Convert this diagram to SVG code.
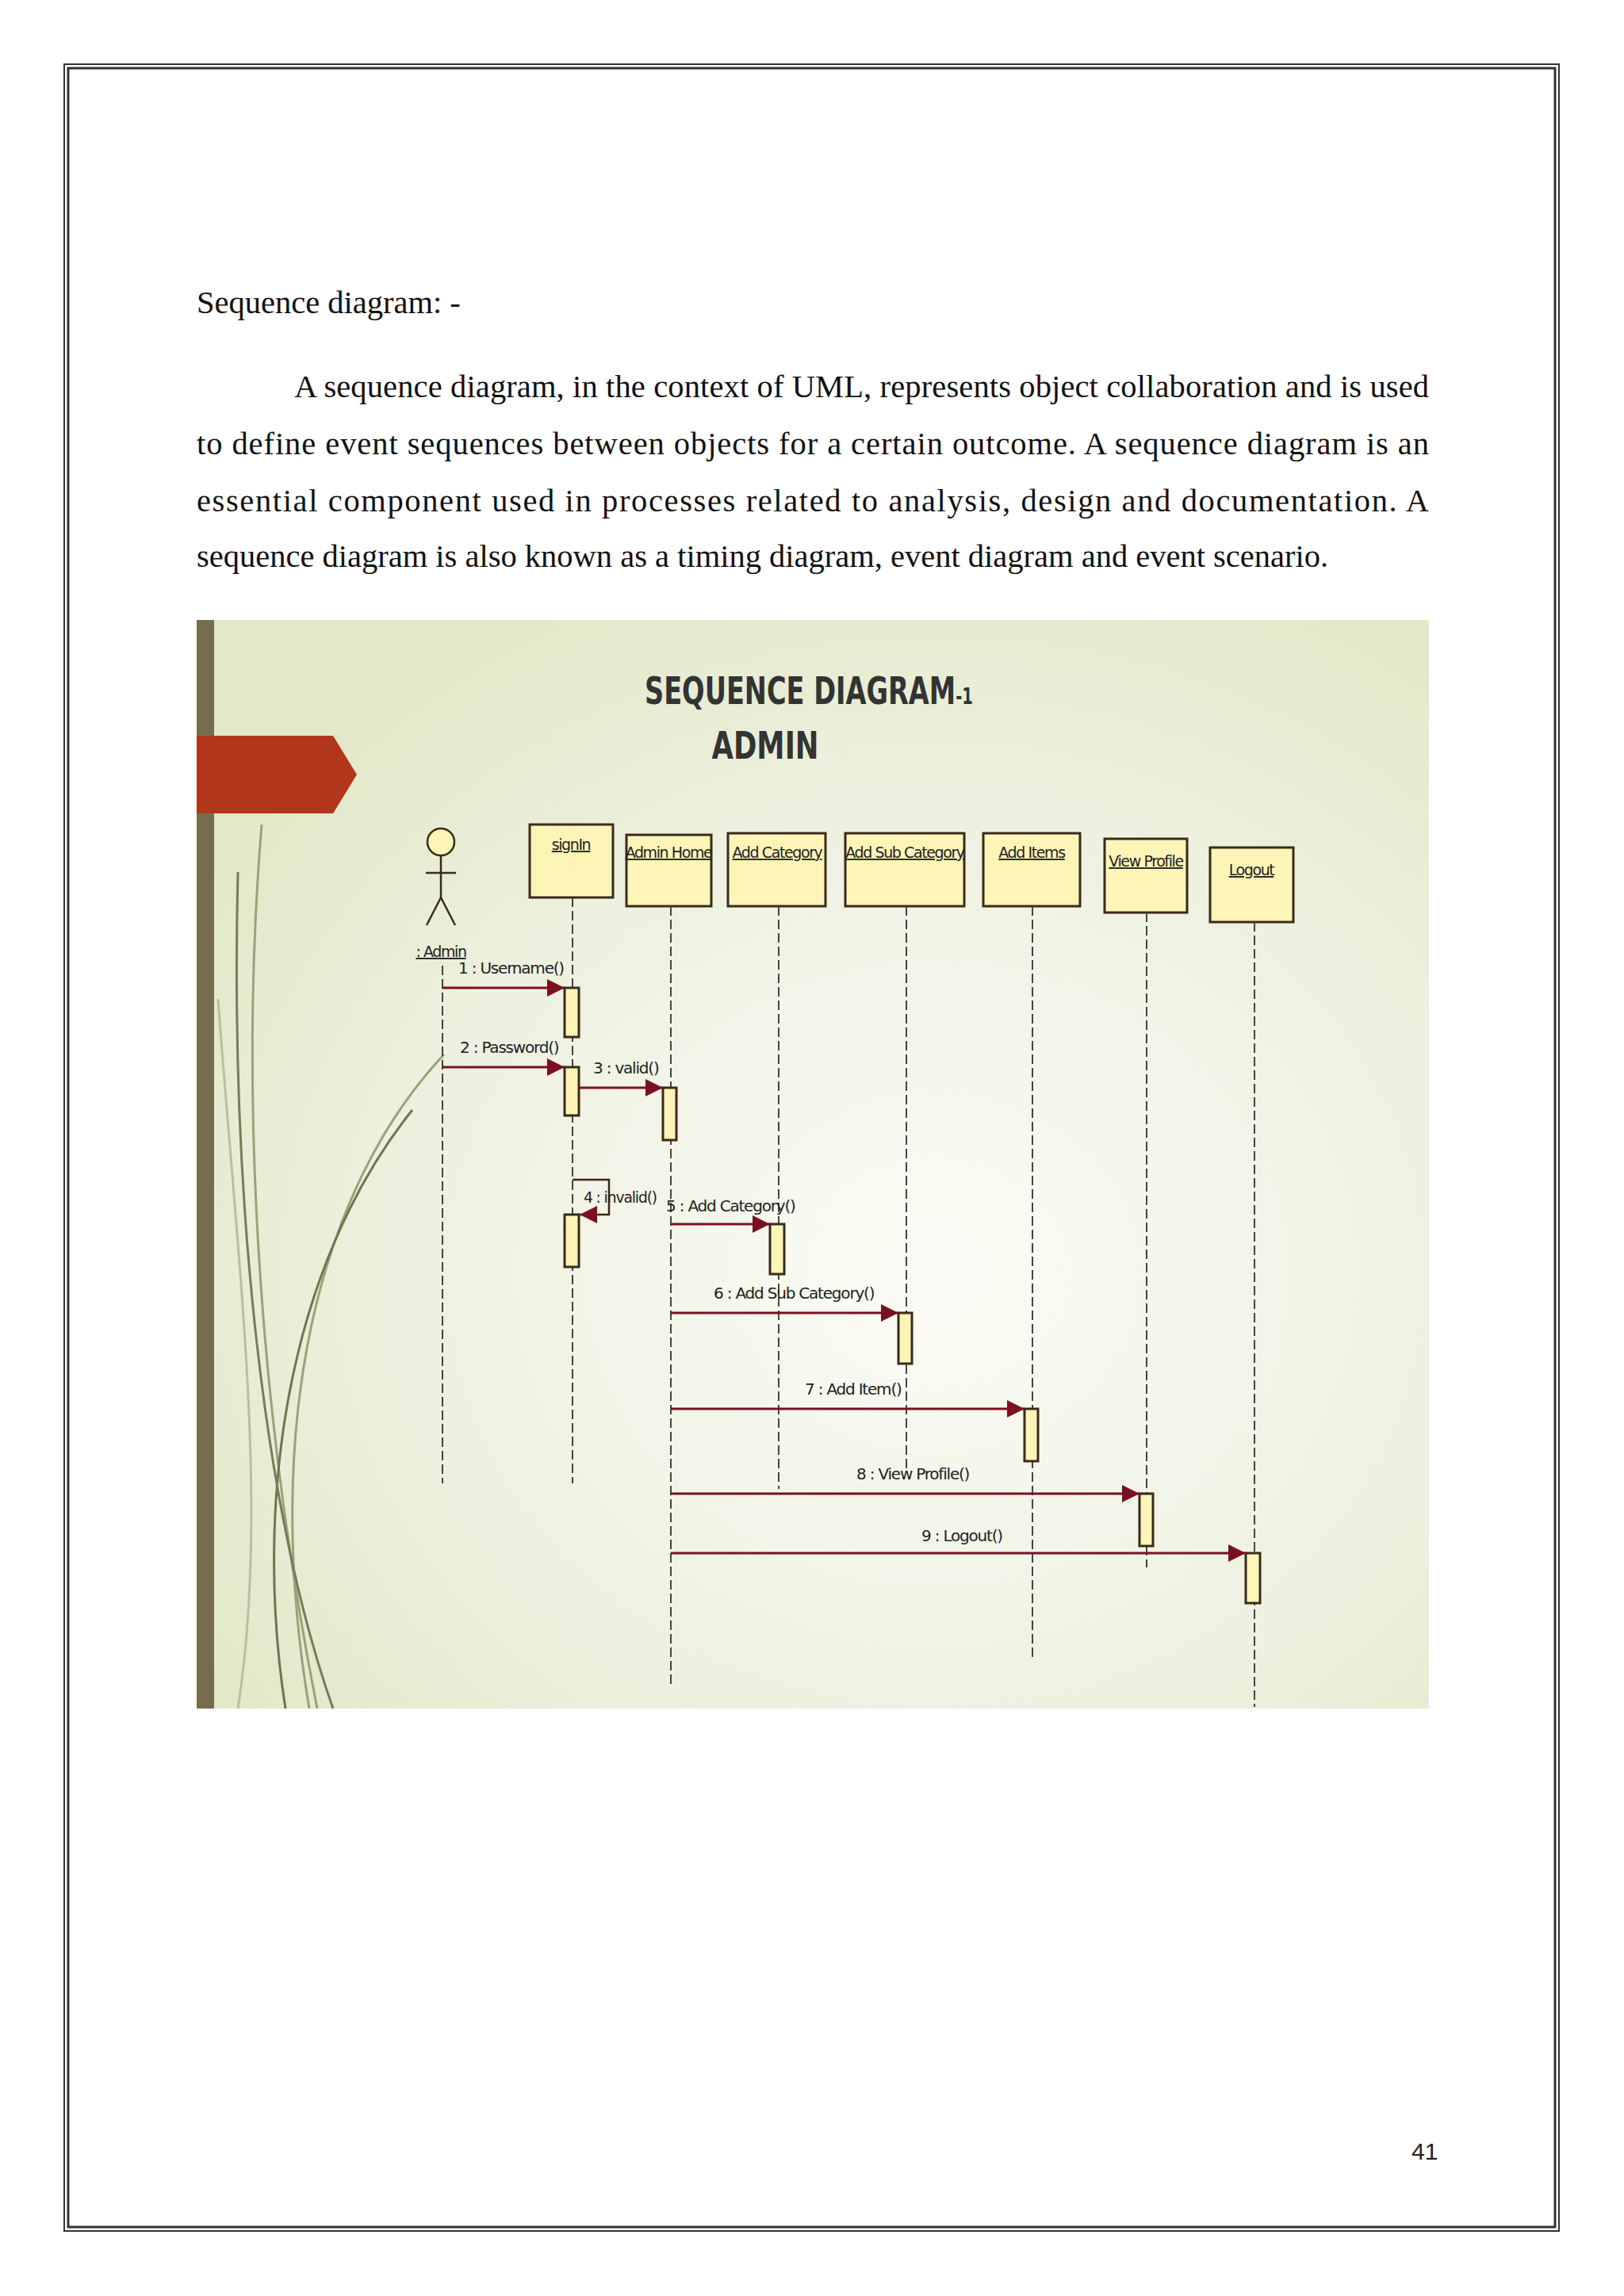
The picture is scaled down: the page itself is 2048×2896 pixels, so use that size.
<svg xmlns="http://www.w3.org/2000/svg" width="2048" height="2896" viewBox="0 0 2048 2896">
<defs>
<radialGradient id="bg" cx="0.6" cy="0.6" r="0.7">
<stop offset="0" stop-color="#fbfbf5"/><stop offset="0.6" stop-color="#eef1e0"/><stop offset="1" stop-color="#e2e8c8"/>
</radialGradient>
<marker id="ah" viewBox="0 0 10 10" refX="10" refY="5" markerWidth="22" markerHeight="22" markerUnits="userSpaceOnUse" orient="auto"><path d="M0,0 L10,5 L0,10 z" fill="#7a1020"/></marker>
</defs>
<style>
.t{font-family:"Liberation Serif",serif;font-size:40.5px;fill:#111}
.obj{fill:#fdf5b8;stroke:#3a2a1a;stroke-width:3}
.act{fill:#fdf5b8;stroke:#3a2a1a;stroke-width:3}
.ll{stroke:#444;stroke-width:2;stroke-dasharray:12,5;fill:none}
.msg{stroke:#7a1020;stroke-width:3;fill:none;marker-end:url(#ah)}
.lb{font-family:"DejaVu Sans","Liberation Sans",sans-serif;font-size:20px;fill:#222;letter-spacing:-1.2px}
.on{font-family:"DejaVu Sans","Liberation Sans",sans-serif;font-size:19px;fill:#222;letter-spacing:-1.4px;text-decoration:underline;text-anchor:middle}
</style>
<rect width="2048" height="2896" fill="#fff"/>
<rect x="81" y="81" width="1885" height="2733" fill="none" stroke="#333" stroke-width="2"/>
<rect x="86" y="86" width="1875" height="2723" fill="none" stroke="#333" stroke-width="3"/>
<text class="t" x="248" y="395">Sequence diagram: -</text>
<text class="t" x="371" y="501" textLength="1431" lengthAdjust="spacing">A sequence diagram, in the context of UML, represents object collaboration and is used</text>
<text class="t" x="248" y="573" textLength="1554" lengthAdjust="spacing">to define event sequences between objects for a certain outcome. A sequence diagram is an</text>
<text class="t" x="248" y="645" textLength="1554" lengthAdjust="spacing">essential component used in processes related to analysis, design and documentation. A</text>
<text class="t" x="248" y="715">sequence diagram is also known as a timing diagram, event diagram and event scenario.</text>
<text x="1780" y="2724" font-family="Liberation Sans,sans-serif" font-size="30" fill="#222">41</text>
<g id="slide">
<rect x="248" y="782" width="1554" height="1373" fill="url(#bg)"/>
<rect x="248" y="782" width="22" height="1373" fill="#776b50"/>
<path d="M248,928 L420,928 L450,977 L420,1026 L248,1026 z" fill="#b1361c"/>
<g fill="none" stroke="#9aa27a" stroke-width="3">
<path d="M330,1040 C300,1400 330,1800 400,2155"/>
<path d="M560,1330 C400,1500 330,1800 390,2155"/>
<path d="M520,1400 C360,1600 320,1900 360,2155" stroke="#6f7550"/>
<path d="M300,1100 C290,1500 330,1900 420,2155" stroke="#7c7a5a"/>
<path d="M275,1260 C300,1600 340,1900 300,2155" stroke="#b9bfa0"/>
</g>
<text x="1020" y="888" text-anchor="middle" font-family="DejaVu Sans,sans-serif" font-weight="bold" font-size="48" fill="#333" textLength="414" lengthAdjust="spacingAndGlyphs">SEQUENCE DIAGRAM<tspan font-size="28">-1</tspan></text>
<text x="965" y="957" text-anchor="middle" font-family="DejaVu Sans,sans-serif" font-weight="bold" font-size="48" fill="#333" textLength="135" lengthAdjust="spacingAndGlyphs">ADMIN</text>
</g>
<g id="admin">
<circle cx="556" cy="1062" r="17" fill="#fdf5b8" stroke="#3a2a1a" stroke-width="2.5"/>
<path d="M556,1079 V1132 M537,1101 H575 M556,1132 L538,1167 M556,1132 L574,1167" stroke="#3a2a1a" stroke-width="2.5" fill="none"/>
<text class="on" x="556" y="1207">: Admin</text>
</g>
<g id="signIn"><rect class="obj" x="668" y="1040" width="105" height="92"/><text class="on" x="720" y="1072">signIn</text></g>
<g id="adminHome"><rect class="obj" x="790" y="1053" width="107" height="90"/><text class="on" x="843" y="1082">Admin Home</text></g>
<g id="addCategory"><rect class="obj" x="918" y="1051" width="123" height="92"/><text class="on" x="980" y="1082">Add Category</text></g>
<g id="addSubCategory"><rect class="obj" x="1066" y="1051" width="150" height="92"/><text class="on" x="1141" y="1082">Add Sub Category</text></g>
<g id="addItems"><rect class="obj" x="1240" y="1051" width="122" height="92"/><text class="on" x="1301" y="1082">Add Items</text></g>
<g id="viewProfile"><rect class="obj" x="1393" y="1058" width="104" height="93"/><text class="on" x="1445" y="1093">View Profile</text></g>
<g id="logout"><rect class="obj" x="1526" y="1069" width="105" height="94"/><text class="on" x="1578" y="1104">Logout</text></g>
<g id="lifelines">
<path class="ll" d="M558,1218 V1871"/>
<path class="ll" d="M722,1132 V1871"/>
<path class="ll" d="M846,1143 V2126"/>
<path class="ll" d="M982,1143 V1878"/>
<path class="ll" d="M1143,1143 V1858"/>
<path class="ll" d="M1302,1143 V2091"/>
<path class="ll" d="M1446,1151 V1977"/>
<path class="ll" d="M1582,1163 V2153"/>
</g>
<g id="activations">
<rect class="act" x="712" y="1246" width="18" height="62"/>
<rect class="act" x="712" y="1346" width="18" height="61"/>
<rect class="act" x="836" y="1372" width="17" height="66"/>
<rect class="act" x="712" y="1532" width="18" height="66"/>
<rect class="act" x="971" y="1544" width="18" height="63"/>
<rect class="act" x="1133" y="1656" width="17" height="64"/>
<rect class="act" x="1292" y="1777" width="17" height="66"/>
<rect class="act" x="1437" y="1884" width="17" height="66"/>
<rect class="act" x="1571" y="1959" width="18" height="63"/>
</g>
<g id="connectors">
<path class="msg" d="M558,1246 H712"/>
<path class="msg" d="M558,1346 H712"/>
<path class="msg" d="M730,1372 H836"/>
<path d="M722,1488 H768 V1532 H731" stroke="#3a2a1a" stroke-width="2.5" fill="none" marker-end="url(#ah)"/>
<path class="msg" d="M846,1544 H971"/>
<path class="msg" d="M846,1656 H1133"/>
<path class="msg" d="M846,1777 H1292"/>
<path class="msg" d="M846,1884 H1437"/>
<path class="msg" d="M846,1959 H1571"/>
<text class="lb" x="578" y="1228">1 : Username()</text>
<text class="lb" x="580" y="1328">2 : Password()</text>
<text class="lb" x="748" y="1354">3 : valid()</text>
<text class="lb" x="736" y="1517" textLength="92" lengthAdjust="spacingAndGlyphs">4 : invalid()</text>
<text class="lb" x="840" y="1528">5 : Add Category()</text>
<text class="lb" x="900" y="1638">6 : Add Sub Category()</text>
<text class="lb" x="1015" y="1759">7 : Add Item()</text>
<text class="lb" x="1080" y="1866">8 : View Profile()</text>
<text class="lb" x="1162" y="1944">9 : Logout()</text>
</g>
</svg>
